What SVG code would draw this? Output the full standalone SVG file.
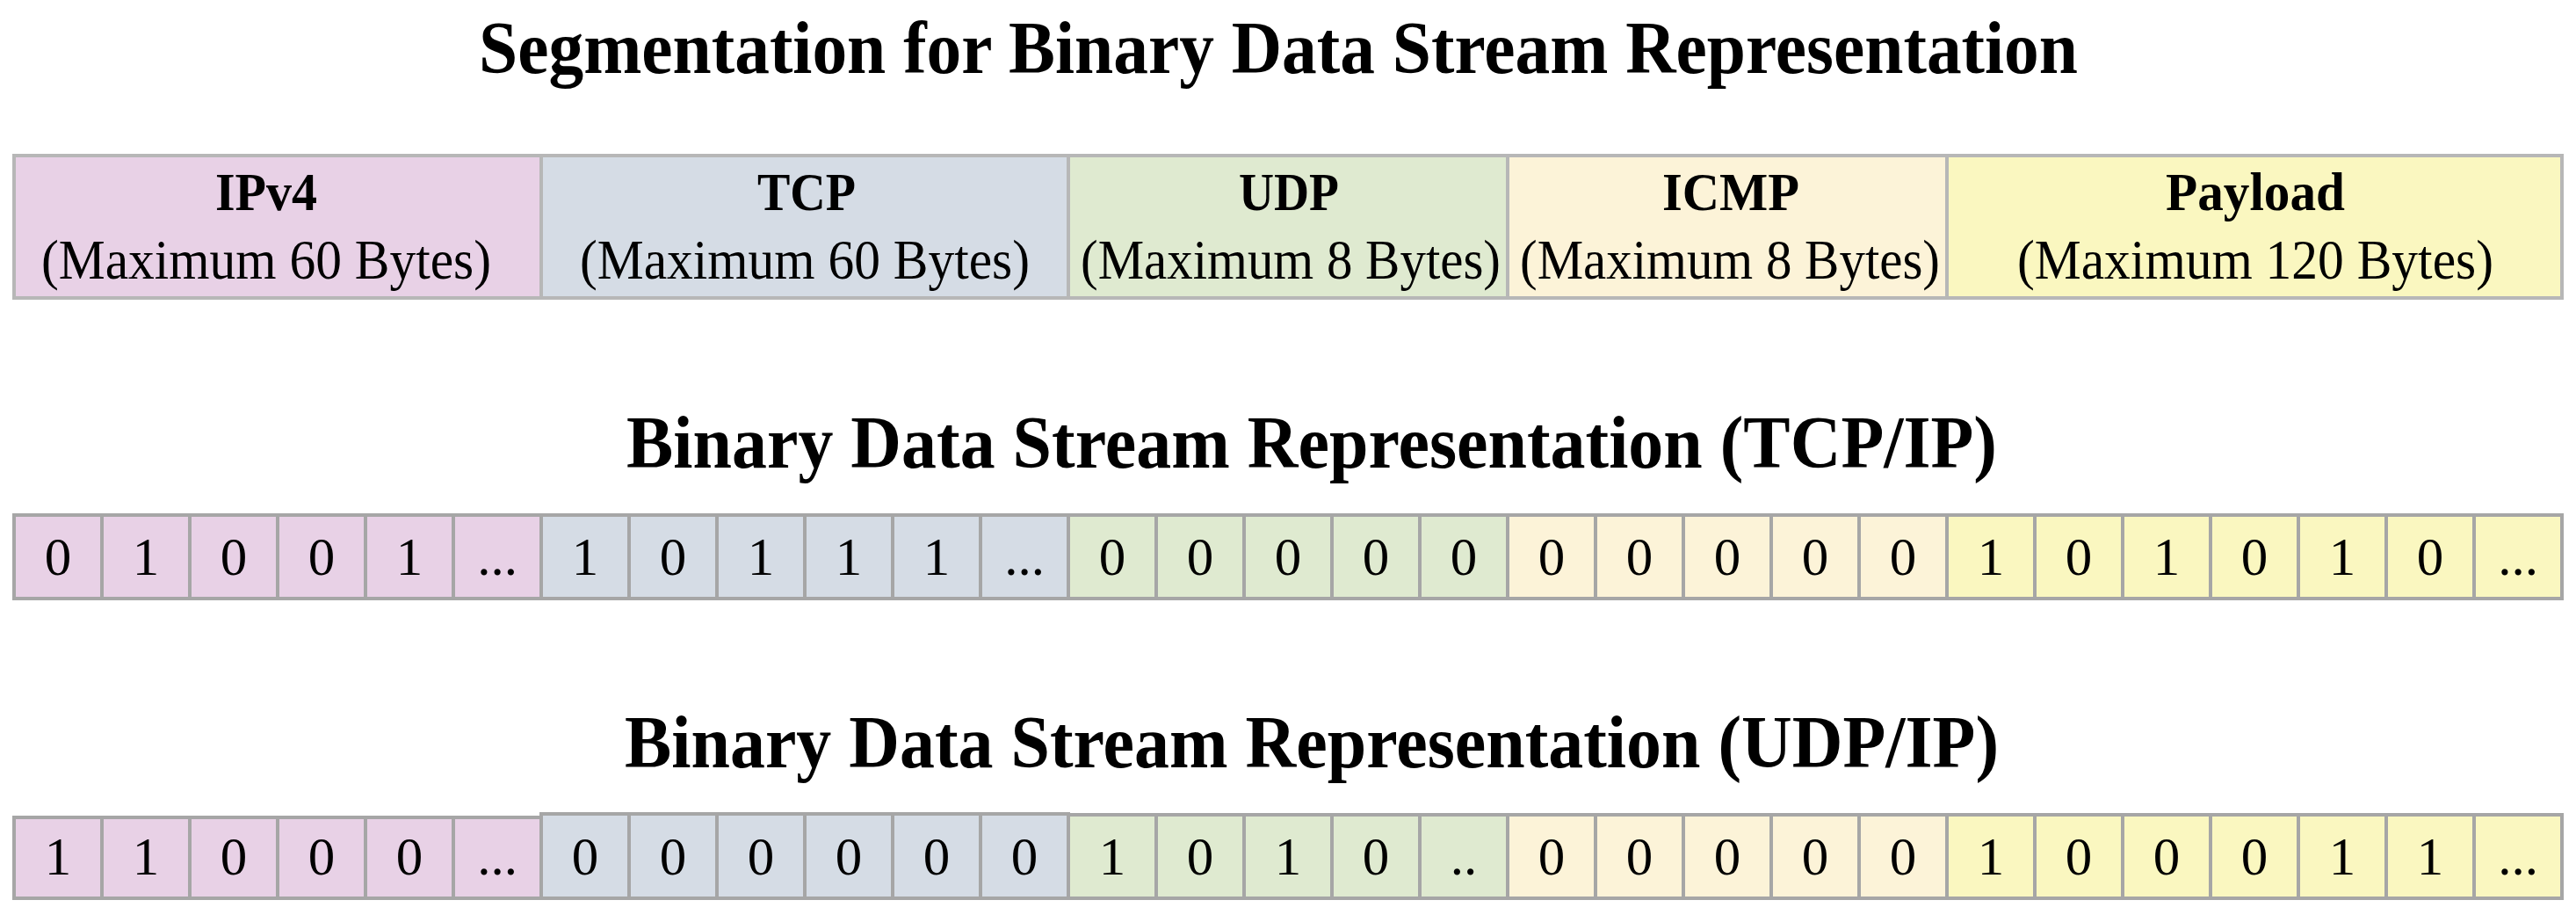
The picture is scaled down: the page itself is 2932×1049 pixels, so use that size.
<svg xmlns="http://www.w3.org/2000/svg" width="2932" height="1049" viewBox="0 0 2932 1049">
<style>
.title{font-family:"Liberation Serif","Times New Roman",serif;font-weight:bold;font-size:84px;fill:#000;text-anchor:middle}
.hb{font-family:"Liberation Serif","Times New Roman",serif;font-weight:bold;font-size:61px;fill:#000;text-anchor:middle}
.hr{font-family:"Liberation Serif","Times New Roman",serif;font-size:63px;fill:#000;text-anchor:middle}
.d{font-family:"Liberation Serif","Times New Roman",serif;font-size:61px;fill:#000;text-anchor:middle}
.seg{stroke:#b7b7b7;stroke-width:4}
.c{stroke:#a6a6a6;stroke-width:4}
.ip{fill:#E8D1E6}.tcp{fill:#D5DCE5}.udp{fill:#DFEAD0}.icmp{fill:#FCF3D8}.pay{fill:#FAF7C0}
</style>
<rect width="2932" height="1049" fill="#ffffff"/>
<text class="title" x="1455" y="83" textLength="1820" lengthAdjust="spacingAndGlyphs">Segmentation for Binary Data Stream Representation</text>

<g id="segments">
 <g id="seg-ipv4"><rect class="seg ip" x="16" y="177" width="600" height="162"/><text class="hb" x="303" y="239" textLength="116" lengthAdjust="spacingAndGlyphs">IPv4</text><text class="hr" x="303" y="317" textLength="512" lengthAdjust="spacingAndGlyphs">(Maximum 60 Bytes)</text></g>
 <g id="seg-tcp"><rect class="seg tcp" x="616" y="177" width="600" height="162"/><text class="hb" x="918" y="239" textLength="112" lengthAdjust="spacingAndGlyphs">TCP</text><text class="hr" x="916" y="317" textLength="512" lengthAdjust="spacingAndGlyphs">(Maximum 60 Bytes)</text></g>
 <g id="seg-udp"><rect class="seg udp" x="1216" y="177" width="500" height="162"/><text class="hb" x="1467" y="239" textLength="114" lengthAdjust="spacingAndGlyphs">UDP</text><text class="hr" x="1469" y="317" textLength="478" lengthAdjust="spacingAndGlyphs">(Maximum 8 Bytes)</text></g>
 <g id="seg-icmp"><rect class="seg icmp" x="1716" y="177" width="500" height="162"/><text class="hb" x="1970" y="239" textLength="156" lengthAdjust="spacingAndGlyphs">ICMP</text><text class="hr" x="1969" y="317" textLength="478" lengthAdjust="spacingAndGlyphs">(Maximum 8 Bytes)</text></g>
 <g id="seg-payload"><rect class="seg pay" x="2216" y="177" width="700" height="162"/><text class="hb" x="2567" y="239" textLength="204" lengthAdjust="spacingAndGlyphs">Payload</text><text class="hr" x="2567" y="317" textLength="542" lengthAdjust="spacingAndGlyphs">(Maximum 120 Bytes)</text></g>
</g>

<text class="title" x="1493" y="532" textLength="1560" lengthAdjust="spacingAndGlyphs">Binary Data Stream Representation (TCP/IP)</text>

<g id="stream-tcpip">
 <g id="tcpip-ipv4" class="ip">
  <rect class="c" x="16" y="586" width="100" height="95"/><rect class="c" x="116" y="586" width="100" height="95"/><rect class="c" x="216" y="586" width="100" height="95"/><rect class="c" x="316" y="586" width="100" height="95"/><rect class="c" x="416" y="586" width="100" height="95"/><rect class="c" x="516" y="586" width="100" height="95"/>
 </g>
 <g id="tcpip-tcp" class="tcp">
  <rect class="c" x="616" y="586" width="100" height="95"/><rect class="c" x="716" y="586" width="100" height="95"/><rect class="c" x="816" y="586" width="100" height="95"/><rect class="c" x="916" y="586" width="100" height="95"/><rect class="c" x="1016" y="586" width="100" height="95"/><rect class="c" x="1116" y="586" width="100" height="95"/>
 </g>
 <g id="tcpip-udp" class="udp">
  <rect class="c" x="1216" y="586" width="100" height="95"/><rect class="c" x="1316" y="586" width="100" height="95"/><rect class="c" x="1416" y="586" width="100" height="95"/><rect class="c" x="1516" y="586" width="100" height="95"/><rect class="c" x="1616" y="586" width="100" height="95"/>
 </g>
 <g id="tcpip-icmp" class="icmp">
  <rect class="c" x="1716" y="586" width="100" height="95"/><rect class="c" x="1816" y="586" width="100" height="95"/><rect class="c" x="1916" y="586" width="100" height="95"/><rect class="c" x="2016" y="586" width="100" height="95"/><rect class="c" x="2116" y="586" width="100" height="95"/>
 </g>
 <g id="tcpip-payload" class="pay">
  <rect class="c" x="2216" y="586" width="100" height="95"/><rect class="c" x="2316" y="586" width="100" height="95"/><rect class="c" x="2416" y="586" width="100" height="95"/><rect class="c" x="2516" y="586" width="100" height="95"/><rect class="c" x="2616" y="586" width="100" height="95"/><rect class="c" x="2716" y="586" width="100" height="95"/><rect class="c" x="2816" y="586" width="100" height="95"/>
 </g>
 <g id="tcpip-bits">
  <text class="d" x="66" y="654">0</text><text class="d" x="166" y="654">1</text><text class="d" x="266" y="654">0</text><text class="d" x="366" y="654">0</text><text class="d" x="466" y="654">1</text><text class="d" x="566" y="654">...</text>
  <text class="d" x="666" y="654">1</text><text class="d" x="766" y="654">0</text><text class="d" x="866" y="654">1</text><text class="d" x="966" y="654">1</text><text class="d" x="1066" y="654">1</text><text class="d" x="1166" y="654">...</text>
  <text class="d" x="1266" y="654">0</text><text class="d" x="1366" y="654">0</text><text class="d" x="1466" y="654">0</text><text class="d" x="1566" y="654">0</text><text class="d" x="1666" y="654">0</text>
  <text class="d" x="1766" y="654">0</text><text class="d" x="1866" y="654">0</text><text class="d" x="1966" y="654">0</text><text class="d" x="2066" y="654">0</text><text class="d" x="2166" y="654">0</text>
  <text class="d" x="2266" y="654">1</text><text class="d" x="2366" y="654">0</text><text class="d" x="2466" y="654">1</text><text class="d" x="2566" y="654">0</text><text class="d" x="2666" y="654">1</text><text class="d" x="2766" y="654">0</text><text class="d" x="2866" y="654">...</text>
 </g>
</g>

<text class="title" x="1493" y="873" textLength="1564" lengthAdjust="spacingAndGlyphs">Binary Data Stream Representation (UDP/IP)</text>

<g id="stream-udpip">
 <g id="udpip-ipv4" class="ip">
  <rect class="c" x="16" y="930" width="100" height="92"/><rect class="c" x="116" y="930" width="100" height="92"/><rect class="c" x="216" y="930" width="100" height="92"/><rect class="c" x="316" y="930" width="100" height="92"/><rect class="c" x="416" y="930" width="100" height="92"/><rect class="c" x="516" y="930" width="100" height="92"/>
 </g>
 <g id="udpip-tcp" class="tcp">
  <rect class="c" x="616" y="926" width="100" height="96"/><rect class="c" x="716" y="926" width="100" height="96"/><rect class="c" x="816" y="926" width="100" height="96"/><rect class="c" x="916" y="926" width="100" height="96"/><rect class="c" x="1016" y="926" width="100" height="96"/><rect class="c" x="1116" y="926" width="100" height="96"/>
 </g>
 <g id="udpip-udp" class="udp">
  <rect class="c" x="1216" y="927" width="100" height="95"/><rect class="c" x="1316" y="927" width="100" height="95"/><rect class="c" x="1416" y="927" width="100" height="95"/><rect class="c" x="1516" y="927" width="100" height="95"/><rect class="c" x="1616" y="927" width="100" height="95"/>
 </g>
 <g id="udpip-icmp" class="icmp">
  <rect class="c" x="1716" y="927" width="100" height="95"/><rect class="c" x="1816" y="927" width="100" height="95"/><rect class="c" x="1916" y="927" width="100" height="95"/><rect class="c" x="2016" y="927" width="100" height="95"/><rect class="c" x="2116" y="927" width="100" height="95"/>
 </g>
 <g id="udpip-payload" class="pay">
  <rect class="c" x="2216" y="927" width="100" height="95"/><rect class="c" x="2316" y="927" width="100" height="95"/><rect class="c" x="2416" y="927" width="100" height="95"/><rect class="c" x="2516" y="927" width="100" height="95"/><rect class="c" x="2616" y="927" width="100" height="95"/><rect class="c" x="2716" y="927" width="100" height="95"/><rect class="c" x="2816" y="927" width="100" height="95"/>
 </g>
 <g id="udpip-bits">
  <text class="d" x="66" y="995">1</text><text class="d" x="166" y="995">1</text><text class="d" x="266" y="995">0</text><text class="d" x="366" y="995">0</text><text class="d" x="466" y="995">0</text><text class="d" x="566" y="995">...</text>
  <text class="d" x="666" y="995">0</text><text class="d" x="766" y="995">0</text><text class="d" x="866" y="995">0</text><text class="d" x="966" y="995">0</text><text class="d" x="1066" y="995">0</text><text class="d" x="1166" y="995">0</text>
  <text class="d" x="1266" y="995">1</text><text class="d" x="1366" y="995">0</text><text class="d" x="1466" y="995">1</text><text class="d" x="1566" y="995">0</text><text class="d" x="1666" y="995">..</text>
  <text class="d" x="1766" y="995">0</text><text class="d" x="1866" y="995">0</text><text class="d" x="1966" y="995">0</text><text class="d" x="2066" y="995">0</text><text class="d" x="2166" y="995">0</text>
  <text class="d" x="2266" y="995">1</text><text class="d" x="2366" y="995">0</text><text class="d" x="2466" y="995">0</text><text class="d" x="2566" y="995">0</text><text class="d" x="2666" y="995">1</text><text class="d" x="2766" y="995">1</text><text class="d" x="2866" y="995">...</text>
 </g>
</g>
<g id="connectors"/>
</svg>
